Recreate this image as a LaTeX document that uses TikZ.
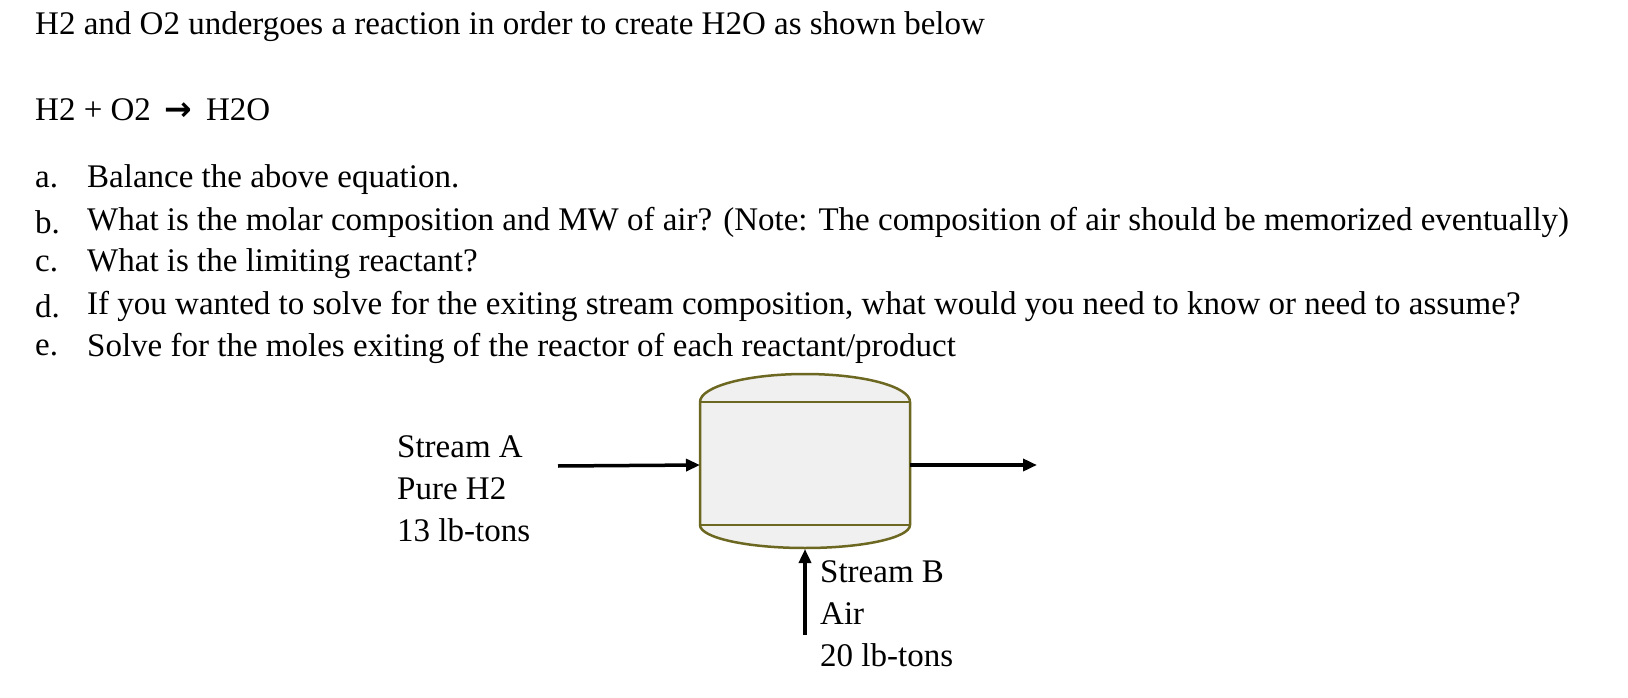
\documentclass[tikz,border=0pt]{standalone}
\usepackage{fontspec}
\setmainfont{Liberation Serif}
\newfontfamily\symf{DejaVu Sans}
\usetikzlibrary{arrows.meta}
\begin{document}
\begin{tikzpicture}[x=1pt,y=-1pt,
  txt/.style={anchor=west,inner sep=0pt,font=\fontsize{33}{38}\selectfont},
  vessel/.style={draw=olive!70!black,line width=2.5pt,fill=black!6},
  flow/.style={line width=3.5pt,-{Triangle[length=14pt,width=12pt]}}]
\useasboundingbox (0,0) rectangle (1628,698);
\node[txt] (l1) at (35,27) {H2 and O2 undergoes a reaction in order to create H2O as shown below};
\node[txt] (l2) at (35,110) {H2 + O2 \,{\symf\bfseries →}\, H2O};
\foreach \y/\l/\t [count=\i] in {180/a./Balance the above equation.,
  222/b./What is the molar composition and MW of air? (Note: The composition of air should be memorized eventually),
  264/c./What is the limiting reactant?,
  306/d./If you wanted to solve for the exiting stream composition{,} what would you need to know or need to assume?,
  348/e./Solve for the moles exiting of the reactor of each reactant\slash product}{
  \node[txt] (la\i) at (35,\y) {\l};
  \node[txt] (lt\i) at (87,\y) {\t};
}
\draw[vessel] (700,402) arc[start angle=180,end angle=360,x radius=105,y radius=28] -- (910,525)
  arc[start angle=0,end angle=180,x radius=105,y radius=23] -- cycle;
\draw[vessel] (700,402) -- (910,402);
\draw[vessel] (700,525) -- (910,525);
\coordinate (vin) at (700,465);
\coordinate (vout) at (910,465);
\coordinate (vbot) at (805,549);
\coordinate (ain) at (558,466);
\coordinate (aout) at (1037,465);
\coordinate (bin) at (805,635);
\draw[flow] (ain) -- (vin);
\draw[flow] (vout) -- (aout);
\draw[flow] (bin) -- (vbot);
\node[txt] (sa1) at (397,447) {Stream A};
\node[txt] (sa2) at (397,489) {Pure H2};
\node[txt] (sa3) at (397,530) {13 lb-tons};
\node[txt] (sb1) at (820,572) {Stream B};
\node[txt] (sb2) at (820,614) {Air};
\node[txt] (sb3) at (820,655) {20 lb-tons};
\end{tikzpicture}
\end{document}
